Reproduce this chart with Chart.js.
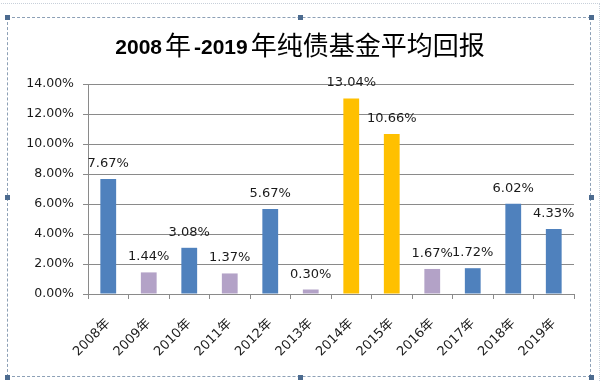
<!DOCTYPE html>
<html><head><meta charset="utf-8">
<script src="https://cdn.jsdelivr.net/npm/chart.js@4"></script>
<style>
html,body{margin:0;padding:0;background:#fff;}
#wrap{position:relative;width:602px;height:382px;overflow:hidden;}
canvas{position:absolute;left:0;top:0;}
.frame{position:absolute;left:7px;top:17px;width:584px;height:360px;border:1px dashed #8da0b6;box-sizing:border-box;}
.outer{position:absolute;left:-10px;top:3px;width:608px;height:400px;border:1px dotted #c8d0da;}
.h{position:absolute;width:5px;height:5px;background:#4c6b8f;}
</style></head><body>
<div id="wrap">
<div class="outer"></div>
<div class="frame"></div>
<canvas id="c" width="602" height="382"></canvas>
<div class="h" style="left:5px;top:15px"></div>
<div class="h" style="left:298px;top:15px"></div>
<div class="h" style="left:589px;top:15px"></div>
<div class="h" style="left:5px;top:195px"></div>
<div class="h" style="left:589px;top:195px"></div>
<div class="h" style="left:5px;top:375px"></div>
<div class="h" style="left:298px;top:375px"></div>
<div class="h" style="left:589px;top:375px"></div>
</div>
<script>
const titleText = '2008年-2019年纯债基金平均回报';
const categories = ['2008年','2009年','2010年','2011年','2012年','2013年','2014年','2015年','2016年','2017年','2018年','2019年'];
const values = [7.67,1.44,3.08,1.37,5.67,0.30,13.04,10.66,1.67,1.72,6.02,4.33];
const barColors = ['#4F81BD','#B3A2C7','#4F81BD','#B3A2C7','#4F81BD','#B3A2C7','#FFC000','#FFC000','#B3A2C7','#4F81BD','#4F81BD','#4F81BD'];
const yMin = 0, yMax = 14, yStep = 2;

const FONT = "'DejaVu Sans','Noto Sans CJK SC',sans-serif";
const LATIN_TITLE = "bold 21px 'Liberation Sans',sans-serif";
const CJK_TITLE = "26px 'Noto Sans CJK SC',sans-serif";

function titleRuns(text){
  const runs = [];
  for (const ch of text){
    const cjk = /[\u3400-\u9fff]/.test(ch);
    const last = runs[runs.length-1];
    if (last && last.cjk === cjk) last.t += ch; else runs.push({t:ch, cjk});
  }
  return runs;
}

const labelPlugin = {
  id:'labels',
  afterDatasetsDraw(chart){
    const ctx = chart.ctx;
    const meta = chart.getDatasetMeta(0);
    ctx.save();
    ctx.font = "13px " + FONT;
    ctx.fillStyle = '#1a1a1a';
    ctx.textAlign = 'center';
    ctx.textBaseline = 'alphabetic';
    meta.data.forEach((bar,i)=>{
      ctx.fillText(values[i].toFixed(2)+'%', bar.x, bar.y - 12);
    });
    ctx.restore();
  },
  afterDraw(chart){
    const ctx = chart.ctx;
    ctx.save();
    ctx.fillStyle = '#000';
    ctx.textAlign = 'left';
    ctx.textBaseline = 'alphabetic';
    const runs = titleRuns(titleText);
    const gap = 3;
    let total = 0;
    runs.forEach((r,i)=>{
      ctx.font = r.cjk ? CJK_TITLE : LATIN_TITLE;
      r.w = ctx.measureText(r.t).width;
      total += r.w + (i ? gap : 0);
    });
    let x = 300 - total/2;
    runs.forEach((r,i)=>{
      if (i) x += gap;
      ctx.font = r.cjk ? CJK_TITLE : LATIN_TITLE;
      ctx.fillText(r.t, x, r.cjk ? 55 : 54);
      x += r.w;
    });
    ctx.restore();
  }
};

new Chart(document.getElementById('c'), {
  type:'bar',
  data:{labels:categories, datasets:[{data:values, backgroundColor:barColors, barPercentage:0.78, categoryPercentage:0.5}]},
  options:{
    responsive:false, animation:false,
    layout:{padding:{left:0,right:28,top:84,bottom:0}},
    plugins:{legend:{display:false}, tooltip:{enabled:false}, title:{display:false}},
    scales:{
      x:{
        grid:{drawOnChartArea:false, drawTicks:true, tickLength:5, offset:true, color:'#8a8a8a'},
        border:{color:'#8a8a8a'},
        ticks:{minRotation:45, maxRotation:45, color:'#1a1a1a', font:{size:13, family:FONT}, padding:17},
        afterFit(s){ s.height = 382 - 294; }
      },
      y:{
        min:yMin, max:yMax,
        grid:{color:'#8a8a8a', tickLength:5},
        border:{color:'#8a8a8a'},
        ticks:{stepSize:yStep, color:'#1a1a1a', font:{size:12.5, family:FONT}, padding:9, callback:v=>v.toFixed(2)+'%'},
        afterFit(s){ s.width = 88; }
      }
    }
  },
  plugins:[labelPlugin]
});
</script>
</body></html>
